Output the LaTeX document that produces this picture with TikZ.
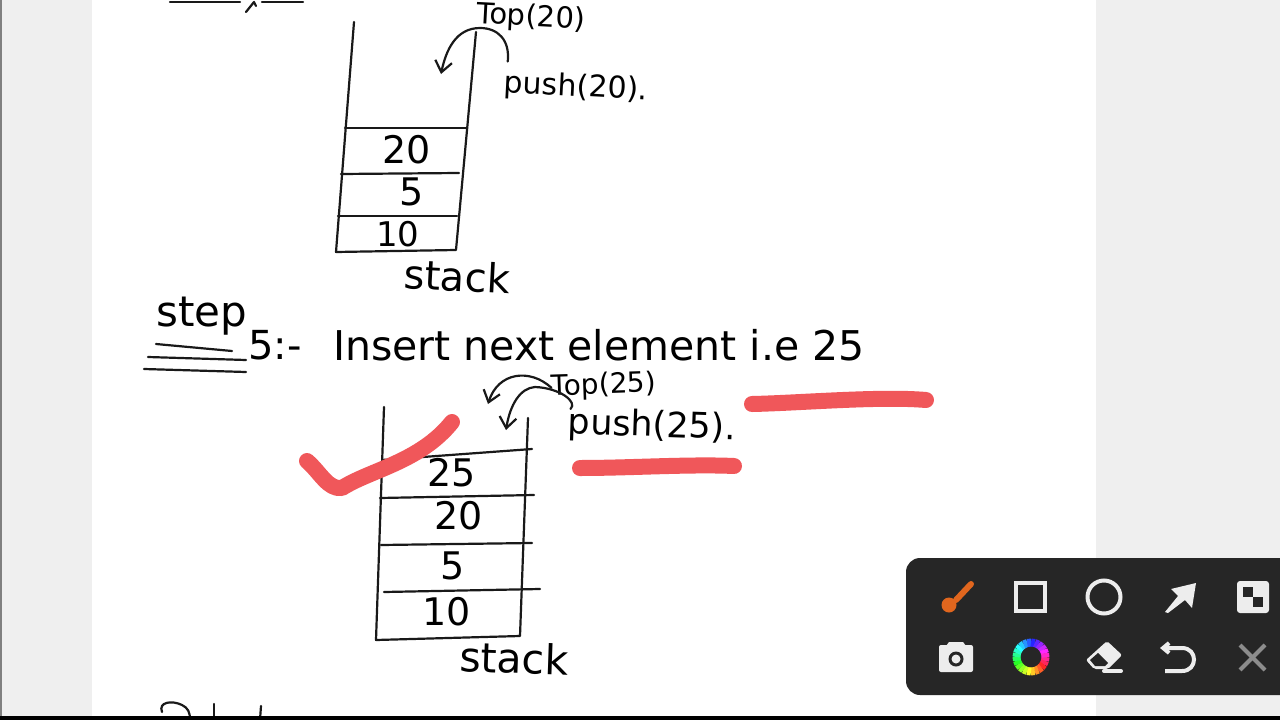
\documentclass[tikz,border=0pt]{standalone}
\usepackage{fontspec}
\setmainfont{DejaVu Sans}
\usetikzlibrary{arrows.meta}
\definecolor{pagegray}{HTML}{EFEFEF}
\definecolor{markred}{HTML}{F0575A}
\definecolor{barblack}{HTML}{262626}
\definecolor{brushorange}{HTML}{E0661E}
\begin{document}
\begin{tikzpicture}[x=1pt,y=-1pt,
    pen/.style={line width=2.2pt,line cap=round,line join=round,black!90},
    hook/.style={pen,-{Straight Barb[length=11pt,width=17pt]}},
    marker/.style={line width=16pt,line cap=round,line join=round,markred},
    icon/.style={line width=4pt,white!93!black},
    big/.style={inner sep=0pt,font=\fontsize{38}{38}\selectfont},
    mid/.style={inner sep=0pt,font=\fontsize{29}{29}\selectfont}]
    \useasboundingbox (0,0) rectangle (1280,720);
    % page
    \fill [pagegray] (0,0) rectangle (1280,720);
    \fill [white] (92,0) rectangle (1096,720);
    \fill [gray] (0,0) rectangle (1.5,720);
    % rest of the previous line
    \draw [pen] (170,2)--(240,2);
    \draw [pen] (262,2)--(303,2);
    \draw [pen] (246,12)--(254,2)--(256,6);
    % first stack
    \draw [pen] (354,22)--(336,252)--(456,250)--(476,32);
    \draw [pen] (345,128)--(467,128);
    \draw [pen] (341,174)--(459,173);
    \draw [pen] (338,216)--(457,216);
    \node [big] (a20) at (407,150) {20};
    \node [big] (a5) at (412,192) {5};
    \node [big,font=\fontsize{34}{34}\selectfont] (a10) at (398,234) {10};
    \node [big,rotate=-3,font=\fontsize{40}{40}\selectfont] (stacka) at (457,276) {stack};
    \node [mid,rotate=-3] (topa) at (531,18) {Top(20)};
    \node [mid,rotate=-3,font=\fontsize{30}{30}\selectfont] (pusha) at (576,88) {push(20).};
    \coordinate (enda) at (441,74);
    \draw [hook] (pusha.north west) ++(3,-8) .. controls (510,40) and (498,28) .. (480,28)
        .. controls (456,28) and (446,50) .. (enda);
    % step 5
    \node [big,font=\fontsize{42}{42}\selectfont] (steplabel) at (202,316) {step};
    \node [big,font=\fontsize{40}{40}\selectfont] (stepfive) at (275,345) {5:-};
    \draw [pen] (156,344)--(232,351);
    \draw [pen] (148,357)--(246,360);
    \draw [pen] (144,369)--(246,372);
    \node [big,anchor=west,font=\fontsize{41}{41}\selectfont] (insert) at (333,345) {Insert next element i.e 25};
    % second stack
    \draw [pen] (384,407)--(376,640)--(520,636)--(528,418);
    \draw [pen] (382,460)--(532,449);
    \draw [pen] (380,498)--(534,495);
    \draw [pen] (381,545)--(532,543);
    \draw [pen] (384,592)--(540,589);
    \node [big] (b25) at (452,473) {25};
    \node [big] (b20) at (459,516) {20};
    \node [big] (b5) at (453,566) {5};
    \node [big] (b10) at (447,612) {10};
    \node [big,rotate=-2,font=\fontsize{41}{41}\selectfont] (stackb) at (514,658) {stack};
    \node [mid,rotate=2,font=\fontsize{28}{28}\selectfont] (topb) at (604,386) {Top(25)};
    \node [big,rotate=-2,font=\fontsize{35}{35}\selectfont] (pushb) at (652,427) {push(25).};
    \coordinate (endtop) at (488,404);
    \coordinate (endpush) at (506,430);
    \draw [hook] (topb.west) .. controls (530,368) and (498,372) .. (endtop);
    \draw [hook] (pushb.north west) ++(2,2) .. controls (578,402) and (560,388) .. (535,387)
        .. controls (520,388) and (510,405) .. (endpush);
    % red marks
    \draw [marker] (752,404) .. controls (800,403) and (880,396) .. (926,400);
    \draw [marker] (580,468) .. controls (630,468) and (690,464) .. (734,466);
    \draw [marker] (307,461) .. controls (320,472) and (328,490) .. (342,488)
        .. controls (370,470) and (420,462) .. (452,422);
    % next heading, cut off by the bar
    \draw [pen] (162,712) .. controls (158,702) and (172,700) .. (182,705) .. controls (188,708) and (190,712) .. (190,720);
    \draw [pen] (214,704)--(214,720);
    \draw [pen] (261,706)--(260,720);
    \fill [black] (0,716) rectangle (1280,720);
    % tool bar
    \fill [barblack,rounded corners=14pt] (906,558) rectangle (1300,695);
    \draw [brushorange,line width=6pt,line cap=round] (971,584)--(956,600); % brush
    \fill [brushorange] (949,605) circle[radius=7.5];
    \draw [icon] (1016,583) rectangle (1045,611); % square
    \draw [icon] (1104,597) circle[radius=16.5]; % circle
    \fill [white!93!black] (1196,583)--(1171,589)--(1178,596)--(1165,612)--(1168,613)--(1185,600)--(1192,608)--cycle; % arrow
    \fill [white!93!black,rounded corners=3pt] (1237,581) rectangle (1269,613); % checker
    \fill [barblack] (1243,587) rectangle (1253,597);
    \fill [barblack] (1253,597) rectangle (1263,607);
    \fill [white!93!black,rounded corners=2pt] (939,645) rectangle (973,672); % camera
    \fill [white!93!black] (946,646)--(949,642)--(963,642)--(966,646)--cycle;
    \fill [barblack] (956,659) circle[radius=7.5];
    \fill [white!93!black] (956,659) circle[radius=4.5];
    \foreach \ang in {0,15,...,345} { % colour ring
        \pgfmathsetmacro{\hue}{mod(330+\ang,360)}
        \definecolor{ringcol}{Hsb}{\hue,0.85,1}
        \draw [ringcol,line width=8pt] (1031,657) ++(\ang:14.5) arc[start angle=\ang,delta angle=16,radius=14.5];
    }
    \fill [white!93!black,rounded corners=2pt] (1086,660)--(1107,641)--(1122,655)--(1108,669)--(1094,669)--cycle; % eraser
    \fill [barblack] (1090,660)--(1098,653)--(1108,663)--(1105,666)--(1095,666)--cycle;
    \draw [icon,line cap=round] (1104,671)--(1121,671);
    \draw [icon,-{Straight Barb[length=6pt,width=10pt]}] (1165,671)--(1182,671) .. controls (1198,671) and (1198,648) .. (1182,648)--(1160,648); % undo
    \draw [gray!90,line width=4pt] (1240,645)--(1265,670); % close
    \draw [gray!90,line width=4pt] (1265,645)--(1240,670);
\end{tikzpicture}
\end{document}
